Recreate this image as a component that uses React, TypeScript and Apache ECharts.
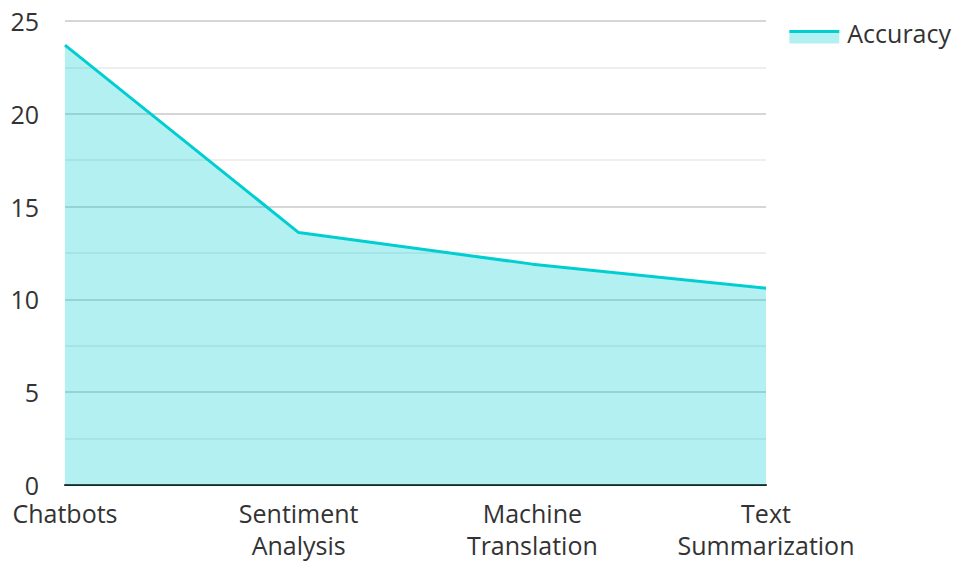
import React, { useEffect, useRef } from "react";
import * as echarts from "echarts";

const categories = ["Chatbots", "Sentiment\nAnalysis", "Machine\nTranslation", "Text\nSummarization"];
const accuracy = [23.7, 13.6, 11.9, 10.6];
const seriesName = "Accuracy";

export default function App() {
  const ref = useRef<HTMLDivElement>(null);
  useEffect(() => {
    document.body.style.margin = "0";
    const chart = echarts.init(ref.current!, undefined, { renderer: "svg" });
    const font = "'Open Sans', 'Noto Sans', sans-serif";
    const lineColor = "#00CED1";
    const areaColor = "#b3f0f1";
    chart.setOption({
      animation: false,
      textStyle: { fontFamily: font },
      legend: {
        right: 0,
        top: 15,
        icon: "rect",
        itemWidth: 50,
        itemHeight: 22,
        itemGap: 10,
        itemStyle: {
          color: {
            type: "linear",
            x: 0,
            y: 0,
            x2: 0,
            y2: 1,
            colorStops: [
              { offset: 0, color: "rgba(255,255,255,0)" },
              { offset: 0.364, color: "rgba(255,255,255,0)" },
              { offset: 0.364, color: lineColor },
              { offset: 0.545, color: lineColor },
              { offset: 0.545, color: areaColor },
              { offset: 1, color: areaColor },
            ],
          },
          borderWidth: 0,
        },
        lineStyle: { width: 0 },
        textStyle: { fontSize: 25, color: "#333", fontFamily: font, padding: [0, 0, 0, 3] },
        data: [seriesName],
      },
      grid: { left: 65, right: 190, top: 21, bottom: 75, containLabel: false },
      xAxis: {
        type: "category",
        data: categories,
        boundaryGap: false,
        axisLine: { lineStyle: { color: "#222", width: 2 } },
        axisTick: { show: false },
        axisLabel: { fontSize: 25, color: "#333", lineHeight: 32, margin: 12, fontFamily: font },
        splitLine: { show: false },
      },
      yAxis: {
        type: "value",
        min: 0,
        max: 25,
        interval: 5,
        axisLine: { show: false },
        axisTick: { show: false },
        axisLabel: { fontSize: 25, color: "#333", margin: 26, fontFamily: font },
        splitLine: { lineStyle: { color: "#c8c8c8", width: 1.5 } },
        minorTick: { show: false, splitNumber: 2 },
        minorSplitLine: { show: true, lineStyle: { color: "#e8e8e8", width: 1.5 } },
      },
      series: [
        {
          name: seriesName,
          type: "line",
          data: accuracy,
          showSymbol: false,
          symbol: "none",
          lineStyle: { color: lineColor, width: 3 },
          itemStyle: { color: lineColor },
          areaStyle: { color: lineColor, opacity: 0.3 },
        },
      ],
    });
    return () => chart.dispose();
  }, []);
  return <div ref={ref} style={{ width: 956, height: 561 }} />;
}
